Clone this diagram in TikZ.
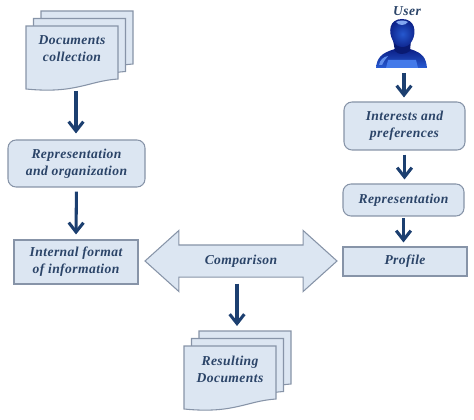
\documentclass[tikz,border=0pt]{standalone}
\usepackage{fontspec}
\setmainfont[LetterSpace=3]{Liberation Serif}
\usetikzlibrary{arrows.meta,positioning,calc,shapes.arrows}
\definecolor{BoxFill}{HTML}{DCE6F2}
\definecolor{BoxEdge}{HTML}{8794A8}
\definecolor{FlowBlue}{HTML}{1C3F70}
\definecolor{LabelBlue}{HTML}{2B4468}
\definecolor{UserDark}{HTML}{0B1F86}
\definecolor{UserBright}{HTML}{2F6BE6}
\newcommand{\labelfont}{\fontsize{10.2}{12.75}\selectfont\bfseries\itshape}
% one stack of three sheets, the named node is the text on the front sheet
\newcommand{\docstack}[4]{
  \foreach \off in {15,7.5,0}{
    \draw[sheet] (#2+\off,#3-\off) -- (#2+92+\off,#3-\off) -- (#2+92+\off,#3+53-\off)
      .. controls (#2+62+\off,#3+55-\off) and (#2+50+\off,#3+68-\off) .. (#2+\off,#3+63-\off) -- cycle;
  }
  \node[doctext] (#1) at (#2+46,#3+23) {#4};
  \coordinate (#1-top) at (#2+53,#3-15);
  \coordinate (#1-bottom) at (#2+50,#3+65);
}
\begin{document}
\begin{tikzpicture}[
    x=0.75pt,y=-0.75pt,
    sheet/.style={
      draw=BoxEdge,
      fill=BoxFill,
      line width=0.8pt
    },
    doctext/.style={
      inner sep=0pt,
      align=center,
      text=LabelBlue,
      font=\labelfont
    },
    roundbox/.style={
      sheet,
      rounded corners=6pt,
      inner sep=0pt,
      align=center,
      text=LabelBlue,
      font=\labelfont
    },
    plainbox/.style={
      roundbox,
      rounded corners=0pt
    },
    flow/.style={
      -{Straight Barb[length=7pt,width=11pt]},
      line width=2.3pt,
      color=FlowBlue
    }
  ]
  \useasboundingbox (0,0) rectangle (474,420);

  \docstack{docs}{26}{26}{Documents\\collection}
  \docstack{results}{184}{346}{Resulting\\Documents}

  \node[roundbox,minimum width=102.75pt,minimum height=35.25pt] (organize) at (76.5,163.5) {Representation\\and organization};
  \node[plainbox,minimum width=93pt,minimum height=33pt] (internal) at (76,262) {Internal format\\of information};
  \node[sheet,shape=double arrow,inner xsep=0pt,inner ysep=7pt,minimum width=44.25pt,minimum height=144pt,
    double arrow head extend=10.9pt,double arrow tip angle=84,
    text=LabelBlue,font=\labelfont] (comparison) at (241,261) {Comparison};

  \node[text=LabelBlue,font=\labelfont,inner sep=0pt] (user) at (407,11) {User};
  \coordinate (icon) at (404,68);
  % person
  \shade[top color=UserDark,bottom color=UserBright!80!UserDark]
    (376,68) .. controls (377,58) and (381,53) .. (395,49)
    -- (410,49) .. controls (423,53) and (426,58) .. (427,68) -- cycle;
  \fill[UserDark!85!black] (393,40) -- (411,40) -- (410,51) .. controls (405,55) and (398,55) .. (395,51) -- cycle;
  \shade[inner color=UserBright!75!UserDark,outer color=UserDark]
    (402,19) .. controls (415,19) and (417,32) .. (412,41)
    .. controls (408,49) and (397,49) .. (393,41)
    .. controls (388,32) and (389,19) .. (402,19) -- cycle;
  \fill[UserBright!60!white] (396,22) .. controls (399,20) and (405,20) .. (408,22)
    .. controls (405,26) and (399,26) .. (396,22) -- cycle;
  \fill[UserBright!75!white] (379,65) .. controls (380,60) and (383,57) .. (388,56)
    .. controls (385,60) and (383,62) .. (382,65) -- cycle;
  \fill[UserBright!90!white] (386,68) -- (388,60) -- (416,60) -- (418,68) -- cycle;

  \node[roundbox,minimum width=90.75pt,minimum height=36pt] (interests) at (404.5,126) {Interests and\\preferences};
  \node[roundbox,minimum width=90.75pt,minimum height=24pt] (representation) at (403.5,200) {Representation};
  \node[plainbox,minimum width=93pt,minimum height=21.75pt] (profile) at (405,261.5) {Profile};

  \draw[flow] (docs-bottom) -- ($(docs-bottom |- organize.north)+(0,-6)$);
  \draw[flow,shorten <=3pt] (organize.south) -- ($(internal.north)+(0,-5)$);
  \draw[flow] ($(results-top |- comparison.south)+(0,6)$) -- ($(results-top)+(0,-5)$);
  \draw[flow] ($(icon)+(0,5)$) -- ($(icon |- interests.north)+(0,-4)$);
  \draw[flow,shorten <=3pt] (interests.south) -- ($(interests.south |- representation.north)+(0,-4)$);
  \draw[flow,shorten <=1pt] (representation.south) -- ($(representation.south |- profile.north)+(0,-4)$);

\end{tikzpicture}
\end{document}
